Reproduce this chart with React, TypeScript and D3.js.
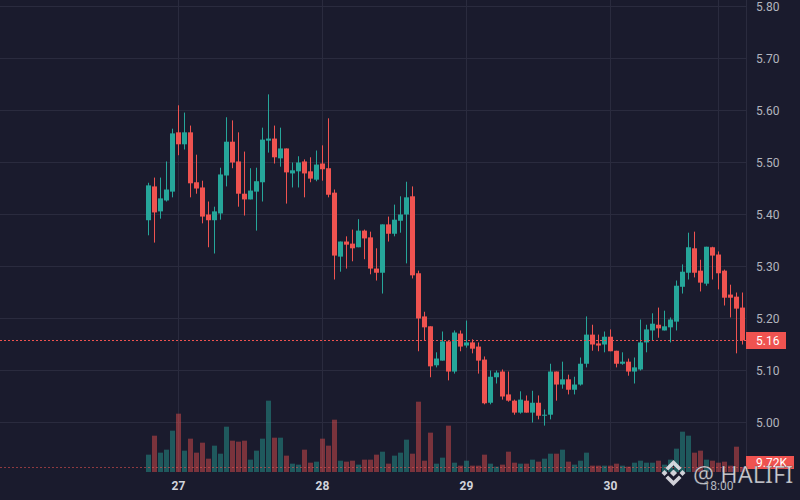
import * as d3 from "d3";
import { useEffect, useRef } from "react";

// hourly candles, first one at 26th 19:00 (UTC)
const startTime = Date.UTC(2024, 2, 26, 19);
const hour = 3600 * 1000;

const opens = [
  5.389, 5.454, 5.406, 5.427, 5.444, 5.558, 5.535, 5.558, 5.462, 5.452,
  5.4, 5.389, 5.402, 5.475, 5.54, 5.502, 5.44, 5.429, 5.444, 5.462,
  5.542, 5.546, 5.508, 5.527, 5.479, 5.483, 5.502, 5.483, 5.467, 5.498,
  5.489, 5.442, 5.319, 5.348, 5.344, 5.337, 5.369, 5.356, 5.296, 5.288,
  5.381, 5.363, 5.388, 5.4, 5.435, 5.287, 5.204, 5.185, 5.11, 5.119,
  5.156, 5.098, 5.171, 5.148, 5.154, 5.146, 5.121, 5.038, 5.087, 5.098,
  5.054, 5.042, 5.019, 5.042, 5.019, 5.038, 5.013, 5.015, 5.098, 5.073,
  5.083, 5.063, 5.073, 5.113, 5.169, 5.152, 5.15, 5.165, 5.138, 5.113,
  5.117, 5.098, 5.102, 5.154, 5.177, 5.188, 5.177, 5.183, 5.194, 5.261,
  5.288, 5.335, 5.292, 5.267, 5.337, 5.323, 5.292, 5.246, 5.242, 5.221,
];
const highs = [
  5.461, 5.471, 5.471, 5.502, 5.565, 5.61, 5.596, 5.571, 5.515, 5.465,
  5.425, 5.415, 5.49, 5.587, 5.581, 5.558, 5.521, 5.489, 5.49, 5.567,
  5.631, 5.571, 5.567, 5.527, 5.5, 5.512, 5.506, 5.51, 5.523, 5.533,
  5.585, 5.448, 5.348, 5.358, 5.371, 5.391, 5.371, 5.367, 5.335, 5.381,
  5.396, 5.419, 5.435, 5.463, 5.454, 5.292, 5.213, 5.185, 5.135, 5.175,
  5.158, 5.177, 5.177, 5.196, 5.16, 5.154, 5.127, 5.1, 5.1, 5.102,
  5.098, 5.044, 5.06, 5.052, 5.061, 5.052, 5.025, 5.113, 5.098, 5.117,
  5.092, 5.088, 5.125, 5.204, 5.188, 5.169, 5.175, 5.179, 5.138, 5.135,
  5.123, 5.125, 5.198, 5.188, 5.21, 5.221, 5.215, 5.202, 5.273, 5.304,
  5.365, 5.367, 5.313, 5.338, 5.338, 5.329, 5.294, 5.265, 5.25, 5.25,
];
const lows = [
  5.36, 5.346, 5.392, 5.425, 5.433, 5.514, 5.525, 5.433, 5.44, 5.383,
  5.337, 5.325, 5.39, 5.454, 5.489, 5.415, 5.398, 5.429, 5.369, 5.425,
  5.519, 5.498, 5.492, 5.421, 5.452, 5.452, 5.433, 5.462, 5.464, 5.465,
  5.433, 5.275, 5.29, 5.296, 5.31, 5.337, 5.314, 5.285, 5.273, 5.248,
  5.348, 5.358, 5.365, 5.306, 5.277, 5.137, 5.158, 5.087, 5.106, 5.119,
  5.081, 5.094, 5.137, 5.144, 5.133, 5.094, 5.035, 5.035, 5.075, 5.044,
  5.04, 5.015, 5.017, 5.019, 5.0, 5.006, 4.994, 5.006, 5.042, 5.065,
  5.054, 5.054, 5.071, 5.106, 5.138, 5.137, 5.135, 5.137, 5.106, 5.111,
  5.09, 5.075, 5.1, 5.135, 5.158, 5.163, 5.177, 5.154, 5.177, 5.248,
  5.275, 5.279, 5.252, 5.263, 5.275, 5.256, 5.225, 5.202, 5.133, 5.15,
];
const closes = [
  5.456, 5.404, 5.431, 5.448, 5.556, 5.535, 5.558, 5.46, 5.45, 5.396,
  5.389, 5.406, 5.477, 5.54, 5.5, 5.44, 5.429, 5.446, 5.464, 5.544,
  5.546, 5.51, 5.527, 5.481, 5.485, 5.5, 5.479, 5.469, 5.496, 5.487,
  5.438, 5.321, 5.348, 5.342, 5.335, 5.369, 5.354, 5.296, 5.288, 5.381,
  5.363, 5.39, 5.4, 5.433, 5.283, 5.2, 5.183, 5.108, 5.123, 5.156,
  5.098, 5.173, 5.146, 5.154, 5.142, 5.119, 5.037, 5.088, 5.096, 5.05,
  5.042, 5.019, 5.044, 5.019, 5.038, 5.013, 5.015, 5.098, 5.073, 5.083,
  5.063, 5.073, 5.113, 5.169, 5.15, 5.148, 5.165, 5.137, 5.113, 5.117,
  5.098, 5.106, 5.154, 5.179, 5.19, 5.181, 5.185, 5.198, 5.263, 5.29,
  5.337, 5.288, 5.269, 5.338, 5.321, 5.287, 5.24, 5.24, 5.219, 5.158,
];
// volume in thousands
const volumes = [
  33.7, 70.6, 37.6, 43.4, 80.4, 113.4, 41.5, 64.8, 37.6, 57.0,
  25.9, 51.2, 35.6, 88.1, 60.9, 59.0, 60.9, 24.0, 41.5, 64.8,
  138.7, 66.7, 66.7, 31.8, 16.2, 14.3, 43.4, 18.1, 20.1, 64.8,
  51.2, 101.7, 22.0, 20.1, 22.0, 14.3, 24.0, 24.0, 33.7, 39.5,
  16.2, 31.8, 37.6, 62.9, 35.6, 136.7, 22.0, 76.5, 16.2, 27.9,
  90.1, 18.1, 12.3, 22.0, 12.3, 12.3, 33.7, 16.2, 10.4, 14.3,
  39.5, 18.1, 16.2, 16.2, 24.0, 20.1, 25.9, 35.6, 35.6, 43.4,
  20.1, 14.3, 22.0, 37.6, 12.3, 12.3, 12.3, 12.3, 16.2, 12.3,
  10.4, 18.1, 22.0, 18.1, 18.1, 22.0, 14.3, 24.0, 45.4, 78.4,
  70.6, 37.6, 41.5, 24.0, 22.0, 18.1, 20.1, 12.3, 49.2, 9.72,
];

const priceTicks = [5.0, 5.1, 5.2, 5.3, 5.4, 5.5, 5.6, 5.7, 5.8];
const timeTicks = [
  Date.UTC(2024, 2, 27),
  Date.UTC(2024, 2, 28),
  Date.UTC(2024, 2, 29),
  Date.UTC(2024, 2, 30),
  Date.UTC(2024, 2, 30, 18),
];
const timeLabels = ["27", "28", "29", "30", "18:00"];

const lastPrice = 5.158;
const lastVolume = 9.72;

type Candle = {
  t: Date;
  o: number;
  h: number;
  l: number;
  c: number;
  v: number;
};

const candles: Candle[] = opens.map((o, i) => ({
  t: new Date(startTime + i * hour),
  o,
  h: highs[i],
  l: lows[i],
  c: closes[i],
  v: volumes[i],
}));

const UP = "#26a69a";
const DOWN = "#ef5350";

export default function App() {
  const svgRef = useRef<SVGSVGElement | null>(null);

  useEffect(() => {
    const svg = d3.select(svgRef.current);
    const width = 800;
    const height = 500;
    const paneRight = 746;
    const paneBottom = 472;
    const font = "Roboto, 'Noto Sans', sans-serif";

    svg.selectAll("*").remove();
    svg.attr("width", width).attr("height", height);

    svg.append("rect").attr("width", width).attr("height", height).attr("fill", "#1a1b2d");

    const x = d3
      .scaleUtc()
      .domain([new Date(Date.UTC(2024, 2, 27)), new Date(Date.UTC(2024, 2, 30))])
      .range([178.5, 610.5]);

    const y = d3.scaleLinear().domain([5.0, 5.8]).range([422.5, 6.5]);

    const yVol = d3.scaleLinear().domain([0, 140]).range([paneBottom, 400]);

    // grid
    svg
      .selectAll(".hgrid")
      .data(priceTicks)
      .enter()
      .append("line")
      .attr("x1", 0)
      .attr("x2", paneRight)
      .attr("y1", (d) => y(d))
      .attr("y2", (d) => y(d))
      .attr("stroke", "#2a2b3e")
      .attr("stroke-width", 1);

    svg
      .selectAll(".vgrid")
      .data(timeTicks)
      .enter()
      .append("line")
      .attr("x1", (d) => x(new Date(d)))
      .attr("x2", (d) => x(new Date(d)))
      .attr("y1", 0)
      .attr("y2", paneBottom)
      .attr("stroke", "#2a2b3e")
      .attr("stroke-width", 1);

    // volume bars
    svg
      .selectAll(".vol")
      .data(candles)
      .enter()
      .append("rect")
      .attr("x", (d) => x(d.t) - 2.5)
      .attr("width", 5)
      .attr("y", (d) => yVol(d.v))
      .attr("height", (d) => paneBottom - yVol(d.v))
      .attr("fill", (d) => (d.c >= d.o ? UP : DOWN))
      .attr("fill-opacity", 0.45);

    // volume last-value line
    svg
      .append("line")
      .attr("x1", 0)
      .attr("x2", paneRight)
      .attr("y1", Math.round(yVol(lastVolume)) + 0.5)
      .attr("y2", Math.round(yVol(lastVolume)) + 0.5)
      .attr("stroke", DOWN)
      .attr("stroke-opacity", 0.55)
      .attr("stroke-dasharray", "2,2");

    // candles
    svg
      .selectAll(".wick")
      .data(candles)
      .enter()
      .append("line")
      .attr("x1", (d) => x(d.t))
      .attr("x2", (d) => x(d.t))
      .attr("y1", (d) => y(d.h))
      .attr("y2", (d) => y(d.l))
      .attr("stroke", (d) => (d.c >= d.o ? UP : DOWN))
      .attr("stroke-width", 1);

    svg
      .selectAll(".body")
      .data(candles)
      .enter()
      .append("rect")
      .attr("x", (d) => x(d.t) - 2.5)
      .attr("width", 5)
      .attr("y", (d) => y(Math.max(d.o, d.c)))
      .attr("height", (d) => Math.max(1, Math.abs(y(d.o) - y(d.c))))
      .attr("fill", (d) => (d.c >= d.o ? UP : DOWN));

    // last price line
    const yLast = Math.round(y(lastPrice)) + 0.5;
    svg
      .append("line")
      .attr("x1", 0)
      .attr("x2", paneRight)
      .attr("y1", yLast)
      .attr("y2", yLast)
      .attr("stroke", DOWN)
      .attr("stroke-dasharray", "2,2");

    // price axis
    svg
      .append("line")
      .attr("x1", paneRight + 0.5)
      .attr("x2", paneRight + 0.5)
      .attr("y1", 0)
      .attr("y2", paneBottom)
      .attr("stroke", "#2a2b3e");

    svg
      .selectAll(".ptick")
      .data(priceTicks)
      .enter()
      .append("text")
      .attr("x", 756)
      .attr("y", (d) => y(d))
      .attr("dy", "0.35em")
      .attr("font-family", font)
      .attr("font-size", 12)
      .attr("fill", "#b2b5be")
      .text((d) => d.toFixed(2));

    svg
      .append("rect")
      .attr("x", paneRight)
      .attr("y", yLast - 8.5)
      .attr("width", 40)
      .attr("height", 17)
      .attr("fill", DOWN);
    svg
      .append("text")
      .attr("x", 756)
      .attr("y", yLast)
      .attr("dy", "0.35em")
      .attr("font-family", font)
      .attr("font-size", 12)
      .attr("fill", "#ffffff")
      .text(lastPrice.toFixed(2));

    svg
      .append("rect")
      .attr("x", paneRight)
      .attr("y", 456)
      .attr("width", 48)
      .attr("height", 13)
      .attr("fill", DOWN);
    svg
      .append("text")
      .attr("x", 756)
      .attr("y", 462.5)
      .attr("dy", "0.35em")
      .attr("font-family", font)
      .attr("font-size", 12)
      .attr("fill", "#ffffff")
      .text(lastVolume.toFixed(2) + "K");

    // time axis
    svg
      .selectAll(".ttick")
      .data(timeTicks)
      .enter()
      .append("text")
      .attr("x", (d) => x(new Date(d)))
      .attr("y", 490)
      .attr("text-anchor", "middle")
      .attr("font-family", font)
      .attr("font-size", 12)
      .attr("font-weight", (_d, i) => (timeLabels[i].includes(":") ? "normal" : "bold"))
      .attr("fill", (_d, i) => (timeLabels[i].includes(":") ? "#b2b5be" : "#d1d4dc"))
      .text((_d, i) => timeLabels[i]);

    // watermark
    const wm = svg.append("g").attr("transform", "translate(673.5,473)");
    const wmFill = "rgba(235,235,240,0.88)";
    const diamond = (cx: number, s: number) =>
      `M${cx},${-s}L${cx + s},0L${cx},${s}L${cx - s},0Z`;
    wm.append("path").attr("d", diamond(0, 3.6)).attr("fill", wmFill);
    wm.append("path").attr("d", diamond(-9, 3)).attr("fill", wmFill);
    wm.append("path").attr("d", diamond(9, 3)).attr("fill", wmFill);
    wm.append("path")
      .attr("d", "M0,-13L8,-5L5.4,-2.4L0,-7.8L-5.4,-2.4L-8,-5Z")
      .attr("fill", wmFill);
    wm.append("path")
      .attr("d", "M0,13L8,5L5.4,2.4L0,7.8L-5.4,2.4L-8,5Z")
      .attr("fill", wmFill);

    svg
      .append("text")
      .attr("x", 693)
      .attr("y", 482.5)
      .attr("font-family", "'Noto Sans', sans-serif")
      .attr("font-size", 23.5)
      .attr("fill", wmFill)
      .attr("stroke", "rgba(40,40,50,0.6)")
      .attr("stroke-width", 0.6)
      .text("@ HALIFI");
  }, []);

  return (
    <>
      <style>{`body{margin:0;background:#1a1b2d}`}</style>
      <svg ref={svgRef}></svg>
    </>
  );
}
